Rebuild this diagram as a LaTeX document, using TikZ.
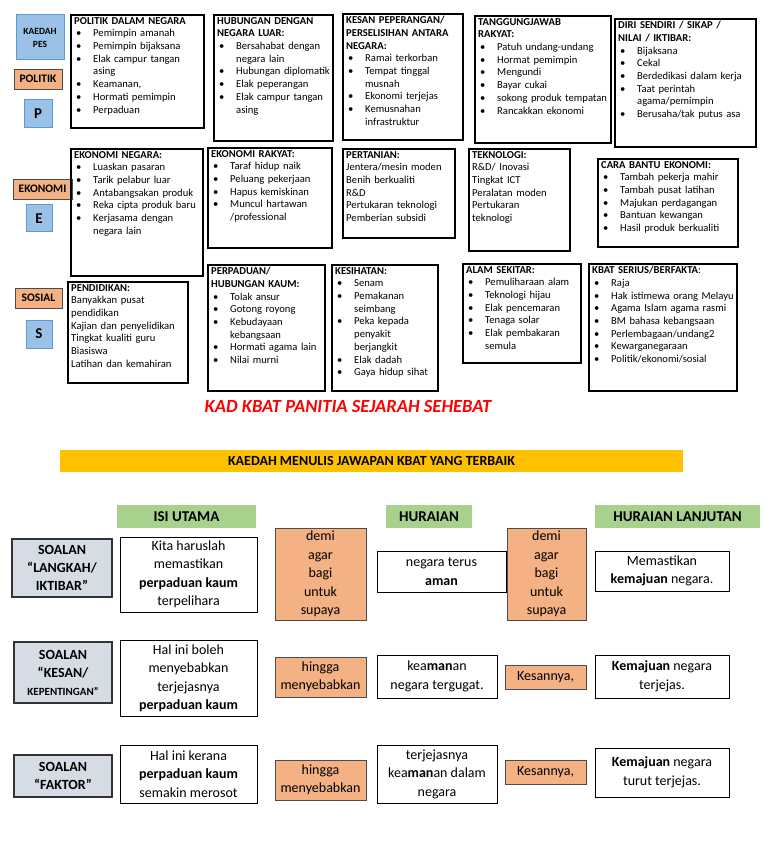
\documentclass[tikz,border=0pt]{standalone}
\usepackage{fontspec}
\setmainfont{Carlito}
\definecolor{lblue}{RGB}{155,194,230}
\definecolor{bblue}{RGB}{91,155,213}
\definecolor{orng}{RGB}{244,177,131}
\definecolor{grn}{RGB}{169,209,142}
\definecolor{yel}{RGB}{255,192,0}
\definecolor{gblue}{RGB}{214,220,228}
\newcommand\itm{\par\noindent\hangindent=19pt\makebox[19pt][l]{\hspace{2pt}\textbullet}}
\newcommand\tbox[6]{%
 \node[tb, minimum width=#4pt-#2pt, minimum height=#5pt-#3pt] (#1) at (#2,#3) {};
 \node[tt, text width=#4pt-#2pt-5pt] (#1t) at ([shift={(4,3)}]#1.north west) {\raggedright\hyphenpenalty=10000 #6\par};}
\newcommand\cbox[7]{%
 \node[cb,#1, minimum width=#5pt-#3pt, minimum height=#6pt-#4pt] (#2) at ({(#3+#5)/2},{(#4+#6)/2}) {#7};}
\begin{document}
\begin{tikzpicture}[x=1pt,y=-1pt,
 tb/.style={draw=black,line width=1.6pt,anchor=north west,inner sep=0},
 tt/.style={anchor=north west,inner sep=0,align=left,font=\fontsize{10.6}{12.7}\selectfont},
 cb/.style={inner sep=1pt,align=center,font=\fontsize{14}{18.5}\selectfont},
 wb/.style={draw=black,line width=0.8pt,fill=white},
 ob/.style={draw=black!70,line width=0.8pt,fill=orng},
 bb/.style={draw=bblue,line width=1pt,fill=lblue},
 gb/.style={fill=grn},
 sb/.style={draw=black!80,line width=1.5pt,fill=gblue}]
\useasboundingbox (0,0) rectangle (768,866);
% left labels
\cbox{bb,font=\fontsize{9.5}{13}\selectfont\bfseries}{kp}{16}{15}{64}{60}{KAEDAH\\PES}
\cbox{ob,font=\fontsize{11.5}{12}\selectfont\bfseries}{pol}{14}{69}{62}{89}{POLITIK}
\cbox{bb,font=\fontsize{15}{16}\selectfont\bfseries}{p}{24}{100}{52}{128}{P}
\cbox{ob,font=\fontsize{11.5}{12}\selectfont\bfseries}{eko}{13}{179}{72}{199}{EKONOMI}
\cbox{bb,font=\fontsize{15}{16}\selectfont\bfseries}{e}{26}{205}{52}{232}{E}
\cbox{ob,font=\fontsize{11.5}{12}\selectfont\bfseries}{sos}{15}{288}{62}{308}{SOSIAL}
\cbox{bb,font=\fontsize{15}{16}\selectfont\bfseries}{s}{26}{320}{52}{348}{S}
% row 1
\tbox{b1}{70}{14}{203}{127}{\textbf{POLITIK DALAM NEGARA}\itm Pemimpin amanah\itm Pemimpin bijaksana\itm Elak campur tangan asing\itm Keamanan,\itm Hormati pemimpin\itm Perpaduan}
\tbox{b2}{213}{14}{332}{140}{\textbf{HUBUNGAN DENGAN NEGARA LUAR:}\itm Bersahabat dengan negara lain\itm Hubungan diplomatik\itm Elak peperangan\itm Elak campur tangan asing}
\tbox{b3}{342}{13}{462}{139}{\textbf{KESAN PEPERANGAN/ PERSELISIHAN ANTARA NEGARA:}\itm Ramai terkorban\itm Tempat tinggal musnah\itm Ekonomi terjejas\itm Kemusnahan infrastruktur}
\tbox{b4}{474}{15}{610}{142}{\textbf{TANGGUNGJAWAB\\RAKYAT:}\itm Patuh undang-undang\itm Hormat pemimpin\itm Mengundi\itm Bayar cukai\itm sokong produk tempatan\itm Rancakkan ekonomi}
\tbox{b5}{614}{18}{755}{146}{\textbf{DIRI SENDIRI / SIKAP /\\NILAI / IKTIBAR:}\itm Bijaksana\itm Cekal\itm Berdedikasi dalam kerja\itm Taat perintah agama/pemimpin\itm Berusaha/tak putus asa}
% row 2
\tbox{b6}{70}{148}{202}{275}{\textbf{EKONOMI NEGARA:}\itm Luaskan pasaran\itm Tarik pelabur luar\itm Antabangsakan produk\itm Reka cipta produk baru\itm Kerjasama dengan negara lain}
\tbox{b7}{207}{147}{331}{247}{\textbf{EKONOMI RAKYAT:}\itm Taraf hidup naik\itm Peluang pekerjaan\itm Hapus kemiskinan\itm Muncul hartawan\par\hspace{19pt}/professional}
\tbox{b8}{342}{148}{454}{237}{\textbf{PERTANIAN:}\\Jentera/mesin moden\\Benih berkualiti\\R\&D\\Pertukaran teknologi\\Pemberian subsidi}
\tbox{b9}{468}{148}{569}{250}{\textbf{TEKNOLOGI:}\\R\&D/ Inovasi\\Tingkat ICT\\Peralatan moden\\Pertukaran\\teknologi}
\tbox{b10}{597}{158}{737}{246}{\textbf{CARA BANTU EKONOMI:}\itm Tambah pekerja mahir\itm Tambah pusat latihan\itm Majukan perdagangan\itm Bantuan kewangan\itm Hasil produk berkualiti}
% row 3
\tbox{b11}{67}{281}{187}{382}{\textbf{PENDIDIKAN:}\\Banyakkan pusat\\pendidikan\\Kajian dan penyelidikan\\Tingkat kualiti guru\\Biasiswa\\Latihan dan kemahiran}
\tbox{b12}{207}{264}{324}{390}{\textbf{PERPADUAN/\\HUBUNGAN KAUM:}\itm Tolak ansur\itm Gotong royong\itm Kebudayaan kebangsaan\itm Hormati agama lain\itm Nilai murni}
\tbox{b13}{331}{264}{437}{390}{\textbf{KESIHATAN:}\itm Senam\itm Pemakanan seimbang\itm Peka kepada penyakit berjangkit\itm Elak dadah\itm Gaya hidup sihat}
\tbox{b14}{462}{263}{580}{362}{\textbf{ALAM SEKITAR:}\itm Pemuliharaan alam\itm Teknologi hijau\itm Elak pencemaran\itm Tenaga solar\itm Elak pembakaran semula}
\tbox{b15}{588}{263}{736}{390}{\textbf{KBAT SERIUS/BERFAKTA}:\itm Raja\itm Hak istimewa orang Melayu\itm Agama Islam agama rasmi\itm BM bahasa kebangsaan\itm Perlembagaan/undang2\itm Kewarganegaraan\itm Politik/ekonomi/sosial}
% title
\node[text=red,font=\fontsize{18.5}{20}\selectfont\bfseries\itshape] (title) at (348,407) {KAD KBAT PANITIA SEJARAH SEHEBAT};
\cbox{fill=yel,font=\fontsize{14}{16}\selectfont\bfseries}{bar}{60}{450}{683}{472}{KAEDAH MENULIS JAWAPAN KBAT YANG TERBAIK}
\cbox{gb,font=\fontsize{15}{16}\selectfont\bfseries}{h1}{117}{505}{256}{528}{ISI UTAMA}
\cbox{gb,font=\fontsize{15}{16}\selectfont\bfseries}{h2}{386}{505}{472}{528}{HURAIAN}
\cbox{gb,font=\fontsize{15}{16}\selectfont\bfseries}{h3}{595}{505}{760}{528}{HURAIAN LANJUTAN}
% row A
\cbox{sb,font=\fontsize{14}{18}\selectfont\bfseries}{qa}{12}{539}{112}{597}{SOALAN\\``LANGKAH/\\IKTIBAR''}
\cbox{wb}{a1}{120}{537}{257}{612}{Kita haruslah\\memastikan\\\textbf{perpaduan kaum}\\terpelihara}
\cbox{ob}{a2}{275}{528}{366}{620}{demi\\agar\\bagi\\untuk\\supaya}
\cbox{wb}{a3}{377}{551}{506}{592}{negara terus\\\textbf{aman}}
\cbox{ob}{a4}{507}{528}{586}{620}{demi\\agar\\bagi\\untuk\\supaya}
\cbox{wb}{a5}{595}{551}{729}{591}{Memastikan\\\textbf{kemajuan} negara.}
% row B
\cbox{sb,font=\fontsize{14}{18}\selectfont\bfseries}{qb}{14}{642}{112}{703}{SOALAN\\``KESAN/\\{\fontsize{11}{18}\selectfont KEPENTINGAN''}}
\cbox{wb}{b1c}{120}{640}{257}{716}{Hal ini boleh\\menyebabkan\\terjejasnya\\\textbf{perpaduan kaum}}
\cbox{ob}{b2c}{275}{657}{366}{697}{hingga\\menyebabkan}
\cbox{wb}{b3c}{377}{655}{497}{698}{kea\textbf{man}an\\negara tergugat.}
\cbox{ob}{b4c}{505}{665}{586}{689}{Kesannya,}
\cbox{wb}{b5c}{595}{655}{729}{698}{\textbf{Kemajuan} negara\\terjejas.}
% row C
\cbox{sb,font=\fontsize{14}{18}\selectfont\bfseries}{qc}{14}{755}{112}{797}{SOALAN\\``FAKTOR''}
\cbox{wb}{c1}{120}{745}{257}{803}{Hal ini kerana\\\textbf{perpaduan kaum}\\semakin merosot}
\cbox{ob}{c2}{275}{760}{366}{800}{hingga\\menyebabkan}
\cbox{wb}{c3}{377}{745}{497}{803}{terjejasnya\\kea\textbf{man}an dalam\\negara}
\cbox{ob}{c4}{505}{760}{586}{784}{Kesannya,}
\cbox{wb}{c5}{595}{748}{729}{797}{\textbf{Kemajuan} negara\\turut terjejas.}
\end{tikzpicture}
\end{document}
